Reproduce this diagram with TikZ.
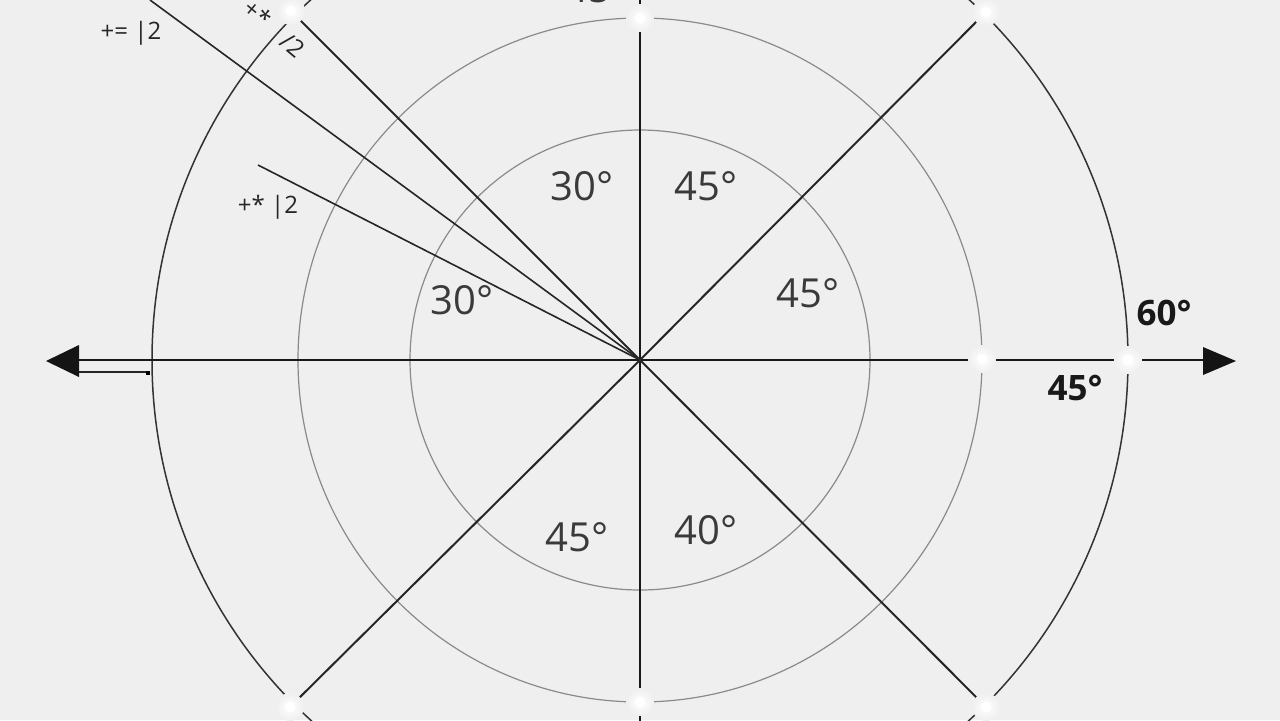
\documentclass[tikz,border=0pt]{standalone}
\usepackage{fontspec}
\setmainfont{Open Sans}
\begin{document}
\begin{tikzpicture}[x=0.5pt,y=-0.5pt]
\definecolor{bg}{HTML}{EFEFEF}
\definecolor{ringgray}{HTML}{8A8A8A}
\definecolor{labgray}{HTML}{3A3A3A}
\tikzset{
  ringthin/.style={draw=ringgray, line width=0.6pt},
  ringouter/.style={draw=black!80, line width=0.75pt},
  axisline/.style={draw=black!90, line width=1.4pt},
  ray/.style={draw=black!85, line width=1pt},
  thinray/.style={draw=black!85, line width=0.8pt},
  deglab/.style={text=labgray, font=\fontsize{20}{24}\selectfont, inner sep=0pt},
  boldlab/.style={text=black!90, font=\fontsize{17.5}{21}\selectfont\bfseries, inner sep=0pt},
  scribble/.style={text=black!85, font=\fontsize{12}{14}\selectfont, inner sep=0pt},
  tip/.style={fill=black!92}
}
\useasboundingbox (0,0) rectangle (1280,720);
\clip (0,0) rectangle (1280,720);
\fill[bg] (0,0) rectangle (1280,720);

% key points
\coordinate (O) at (640,360);
\coordinate (TL) at (291,11);
\coordinate (TR) at (986,12);
\coordinate (BL) at (290,707);
\coordinate (BR) at (986,707);
\coordinate (Ttop) at (640,-5);
\coordinate (Tbot) at (640,725);
\coordinate (Lend) at (78,360);
\coordinate (Rmid) at (1128,360);
\coordinate (Rstart) at (1140,360);
\coordinate (Rend) at (1205,360);
\coordinate (Ray36) at (150,0);
\coordinate (Ray27) at (258,165);

% circles
\draw[ringthin] (O) circle[radius=115pt];
\draw[ringthin] (O) circle[radius=171pt];
\draw[ringouter] (O) circle[radius=244pt];

% axes
\draw[axisline] (Lend) -- (Rmid);
\draw[line width=0.8pt, black!90] (Rstart) -- (Rend);
\draw[axisline] (Ttop) -- (Tbot);

% left double line and arrow
\coordinate (Ldbl1) at (78,372);
\coordinate (Ldbl2) at (146,372);
\draw[line width=0.7pt, black!85] (Ldbl1) -- (Ldbl2);
\fill[black] (Ldbl2) ++(0,-1.5) rectangle ++(4,4);
\coordinate (Ltip) at (46,361);
\fill[tip] (Ltip) -- (79,345) -- (79,377) -- cycle;
\coordinate (Rtip) at (1236,361);
\fill[tip] (Rtip) -- (1203,347) -- (1203,375) -- cycle;

% diagonals
\draw[ray] (O) -- (TL);
\draw[ray] (O) -- (TR);
\draw[ray] (O) -- (BL);
\draw[ray] (O) -- (BR);
\draw[thinray] (O) -- (Ray36);
\draw[thinray] (O) -- (Ray27);

% glows
\foreach \p in {(TL),(TR),(BL),(BR),(640,18),(640,702),(982,359),(1128,360)}{
  \shade[inner color=white, outer color=bg] \p circle[radius=7pt];
  \fill[white] \p circle[radius=2.6pt];
}

% labels
\node[deglab] (l1) at (582,186) {30°};
\node[deglab] (l2) at (706,186) {45°};
\node[deglab] (l3) at (808,293) {45°};
\node[deglab] (l4) at (462,300) {30°};
\node[deglab] (l5) at (577,537) {45°};
\node[deglab] (l6) at (706,530) {40°};
\node[deglab] (l7) at (597,-12) {45°};
\node[boldlab] (l8) at (1164,313) {60°};
\node[boldlab] (l9) at (1075,388) {45°};

% scribbles
\node[scribble] (s1) at (131,33) {+= |2};
\node[scribble] (s2) at (268,207) {+* |2};
\node[scribble, rotate=-40] (s3a) at (258,13) {+*};
\node[scribble, rotate=-40] (s3b) at (293,45) {/2};
\end{tikzpicture}
\end{document}
